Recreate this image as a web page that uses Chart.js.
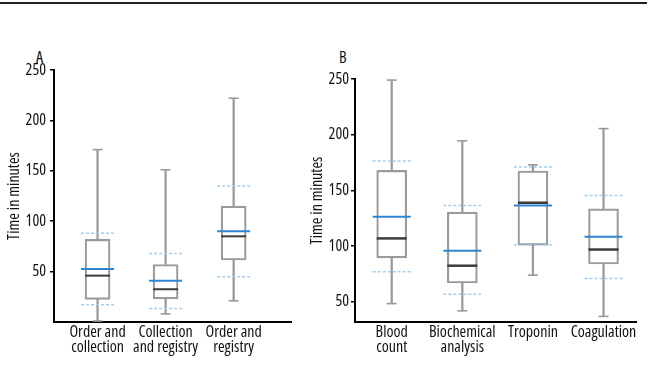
<!DOCTYPE html>
<html>
<head>
<meta charset="utf-8">
<script src="https://cdn.jsdelivr.net/npm/chart.js@4/dist/chart.umd.min.js"></script>
<style>
  body { margin: 0; background: #fff; width: 657px; height: 365px; overflow: hidden; position: relative;
         font-family: "Open Sans", sans-serif; font-stretch: condensed; }
  .rule { position: absolute; left: 0; top: 2px; width: 647px; height: 2px; background: #222; }
  .tag { position: absolute; font-size: 16px; color: #111; }
  .box { position: absolute; }
</style>
</head>
<body>
<div class="rule"></div>
<div class="tag" style="left:36px;top:46px;">A</div>
<div class="tag" style="left:339px;top:46px;">B</div>
<div class="box" style="left:0;top:50px;width:310px;height:315px;"><canvas id="chartA"></canvas></div>
<div class="box" style="left:300px;top:50px;width:357px;height:315px;"><canvas id="chartB"></canvas></div>
<script>
// Panel A
const catsA = [["Order and", "collection"], ["Collection", "and registry"], ["Order and", "registry"]];
const lowA = [1, 8, 21];
const q1A = [22.5, 23, 61.5];
const medianA = [46, 32.5, 85];
const meanA = [52.5, 41, 90];
const q3A = [82, 57, 115];
const highA = [171, 151, 222];
const sdLowA = [17, 13.5, 45];
const sdHighA = [88, 68, 135];
const yTicksA = [50, 100, 150, 200, 250];

// Panel B
const catsB = [["Blood", "count"], ["Biochemical", "analysis"], "Troponin", "Coagulation"];
const lowB = [48.5, 42, 74, 37];
const q1B = [89.5, 67, 101, 84];
const medianB = [107, 82.5, 139, 97];
const meanB = [126.5, 96, 136.5, 108.5];
const q3B = [168, 130.5, 167.5, 133.5];
const highB = [249, 194.5, 173, 205.5];
const sdLowB = [77, 57, 101, 71];
const sdHighB = [176.5, 136.5, 171, 145.5];
const yTicksB = [50, 100, 150, 200, 250];

// "condensed" goes into the weight slot of the canvas font string
Chart.defaults.font.family = "'Open Sans', sans-serif";
Chart.defaults.font.weight = "condensed";
Chart.defaults.font.size = 16;
Chart.defaults.color = "#111";

const grey = "#9a9a9a";
const blue = "#2f86d0";
const lightBlue = "#a6cdee";
const dark = "#3c3c3c";

// dashed point lines
const dashPlugin = {
    id: "dashPoints",
    beforeDatasetDraw(chart, args) {
        if (chart.data.datasets[args.index].dashed) chart.ctx.setLineDash([3, 2]);
    },
    afterDatasetDraw(chart, args) {
        chart.ctx.setLineDash([]);
    }
};

function points(vals) {
    return vals.map((v, i) => ({ x: i + 1, y: v }));
}

function lineSet(vals, color, width, len, order, dashed) {
    return {
        type: "line",
        data: points(vals),
        showLine: false,
        pointStyle: "line",
        pointRadius: len / 2,
        pointHoverRadius: len / 2,
        borderColor: color,
        pointBorderColor: color,
        pointBorderWidth: width,
        clip: false,
        order: order,
        dashed: dashed
    };
}

function makeChart(id, cats, low, q1, median, mean, q3, high, sdLow, sdHigh, yTicks, o) {
    new Chart(document.getElementById(id), {
        type: "line",
        data: {
            datasets: [
                lineSet(mean, blue, 2, o.boxW + 8, 0, false),
                lineSet(median, dark, o.medW, o.boxW, 1, false),
                lineSet(sdHigh, lightBlue, 1.5, o.boxW + 8, 2, true),
                lineSet(sdLow, lightBlue, 1.5, o.boxW + 8, 2, true),
                {
                    type: "bar",
                    data: q1.map((v, i) => ({ x: i + 1, y: [v, q3[i]] })),
                    backgroundColor: "rgba(255,255,255,0)",
                    borderColor: grey,
                    borderWidth: 1.5,
                    borderSkipped: false,
                    barThickness: o.boxW,
                    grouped: false,
                    order: 3
                },
                {
                    type: "bar",
                    data: low.map((v, i) => ({ x: i + 1, y: [v, q1[i]] })),
                    backgroundColor: grey,
                    borderWidth: 0,
                    barThickness: 1.6,
                    grouped: false,
                    order: 4
                },
                {
                    type: "bar",
                    data: q3.map((v, i) => ({ x: i + 1, y: [v, high[i]] })),
                    backgroundColor: grey,
                    borderWidth: 0,
                    barThickness: 1.6,
                    grouped: false,
                    order: 4
                },
                lineSet(low, grey, 1.6, 10, 4, false),
                lineSet(high, grey, 1.6, 10, 4, false)
            ]
        },
        options: {
            responsive: true,
            maintainAspectRatio: false,
            animation: false,
            events: [],
            layout: { padding: { top: o.padTop, right: o.padRight, left: 0, bottom: 0 } },
            plugins: { legend: { display: false }, tooltip: { enabled: false } },
            scales: {
                x: {
                    type: "linear",
                    min: o.xMin,
                    max: o.xMax,
                    offset: false,
                    afterBuildTicks: (s) => { s.ticks = cats.map((c, i) => ({ value: i + 1 })); },
                    afterFit: (s) => { s.height = o.xH; },
                    ticks: {
                        autoSkip: false,
                        maxRotation: 0,
                        padding: 3,
                        font: { size: 16, lineHeight: "15px" },
                        callback: (v) => cats[v - 1]
                    },
                    grid: { display: false, drawTicks: false },
                    border: { display: true, color: "#000", width: 2 }
                },
                y: {
                    min: o.yMin,
                    max: 250,
                    afterBuildTicks: (s) => { s.ticks = yTicks.map((v) => ({ value: v })); },
                    afterFit: (s) => { s.width = o.yW; },
                    ticks: { padding: o.tickPad, font: { size: 16 } },
                    grid: { drawOnChartArea: false, drawTicks: true, tickLength: 4, color: "#000", lineWidth: 1.5 },
                    border: { display: true, color: "#000", width: 2 },
                    title: { display: true, text: "Time in minutes", font: { size: 16 }, padding: { top: o.titlePad, bottom: 0 } }
                }
            }
        },
        plugins: [dashPlugin]
    });
}

makeChart("chartA", catsA, lowA, q1A, medianA, meanA, q3A, highA, sdLowA, sdHighA, yTicksA,
    { boxW: 25, medW: 2, xMin: 0.36, xMax: 3.85, yMin: 0, padTop: 20, padRight: 17, xH: 43, yW: 54, tickPad: 4, titlePad: 5 });
makeChart("chartB", catsB, lowB, q1B, medianB, meanB, q3B, highB, sdLowB, sdHighB, yTicksB,
    { boxW: 30, medW: 2.5, xMin: 0.48, xMax: 4.46, yMin: 32, padTop: 29, padRight: 16, xH: 43, yW: 55, tickPad: 2, titlePad: 8 });
</script>
</body>
</html>
